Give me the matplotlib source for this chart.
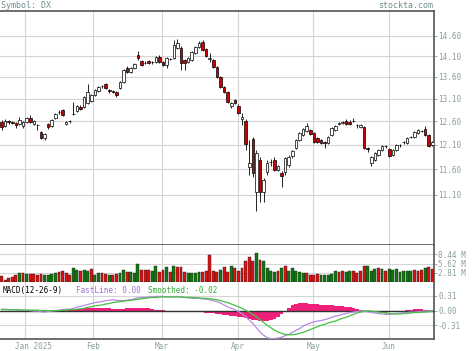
import matplotlib
matplotlib.use("Agg")
import matplotlib.pyplot as plt
import matplotlib.transforms as mtransforms
from matplotlib.ticker import NullLocator
import numpy as np

plt.rcParams['font.family'] = ['DejaVu Sans Mono']

symbol = "DX"
month_labels = ["Jan 2025", "Feb", "Mar", "Apr", "May", "Jun"]
month_pos = [6.5, 25.5, 44.7, 65.9, 86.8, 107.9]
price_ticks = [11.10, 11.60, 12.10, 12.60, 13.10, 13.60, 14.10, 14.60]
vol_ticks = [2.81, 5.62, 8.44]
macd_ticks = [-0.31, 0.0, 0.31]

# daily candles, Dec 2024 - Jun 2025
opens = [12.59, 12.50, 12.60, 12.58, 12.57, 12.55, 12.50, 12.59, 12.67, 12.55,
         12.53, 12.37, 12.25, 12.55, 12.50, 12.67, 12.80, 12.85, 12.55, 12.60,
         12.75, 12.83, 12.92, 12.92, 13.01, 13.05, 13.19, 13.28, 13.38, 13.44,
         13.29, 13.27, 13.26, 13.35, 13.49, 13.82, 13.72, 13.82, 14.13, 13.98,
         13.94, 13.98, 13.96, 13.96, 14.08, 13.96, 13.89, 14.03, 14.05, 14.30,
         14.30, 14.01, 13.96, 14.01, 14.18, 14.33, 14.45, 14.28, 14.04, 14.01,
         13.84, 13.60, 13.37, 13.26, 12.94, 13.07, 12.94, 12.65, 12.61, 11.65,
         12.23, 11.15, 11.79, 11.15, 11.55, 11.74, 11.79, 11.59, 11.53, 11.55,
         11.69, 11.87, 12.04, 12.20, 12.31, 12.39, 12.41, 12.35, 12.25, 12.20,
         12.15, 12.14, 12.31, 12.41, 12.55, 12.57, 12.61, 12.59, 12.60, 12.53,
         12.48, 12.48, 12.03, 11.73, 11.79, 11.89, 11.99, 12.07, 12.02, 11.89,
         11.99, 12.09, 12.15, 12.14, 12.26, 12.27, 12.35, 12.38, 12.44, 12.31,
         12.10]
highs = [12.63, 12.65, 12.62, 12.61, 12.59, 12.70, 12.61, 12.70, 12.74, 12.63,
         12.55, 12.39, 12.35, 12.57, 12.65, 12.78, 12.85, 12.87, 12.61, 12.63,
         13.03, 12.96, 12.96, 13.16, 13.44, 13.21, 13.32, 13.39, 13.42, 13.47,
         13.33, 13.30, 13.28, 13.51, 13.79, 13.86, 13.84, 13.93, 14.22, 14.01,
         13.97, 14.01, 13.99, 14.10, 14.12, 13.98, 14.07, 14.06, 14.50, 14.52,
         14.35, 14.04, 14.08, 14.22, 14.35, 14.47, 14.50, 14.30, 14.18, 14.03,
         13.86, 13.63, 13.40, 13.28, 13.03, 13.10, 12.97, 12.78, 12.65, 12.20,
         12.27, 11.99, 11.85, 11.43, 11.79, 11.81, 11.85, 11.69, 11.57, 11.85,
         11.89, 12.00, 12.22, 12.37, 12.46, 12.57, 12.44, 12.37, 12.27, 12.22,
         12.17, 12.29, 12.48, 12.52, 12.58, 12.60, 12.64, 12.62, 12.67, 12.55,
         12.55, 12.50, 12.05, 11.86, 11.95, 12.01, 12.10, 12.10, 12.04, 12.01,
         12.12, 12.12, 12.18, 12.27, 12.29, 12.39, 12.43, 12.41, 12.50, 12.33,
         12.18]
lows = [12.41, 12.48, 12.55, 12.54, 12.46, 12.52, 12.46, 12.57, 12.57, 12.52,
        12.41, 12.23, 12.20, 12.44, 12.48, 12.65, 12.76, 12.72, 12.53, 12.57,
        12.74, 12.81, 12.85, 12.89, 12.98, 13.03, 13.16, 13.26, 13.35, 13.33,
        13.24, 13.22, 13.15, 13.33, 13.47, 13.70, 13.70, 13.79, 14.01, 13.86,
        13.90, 13.91, 13.92, 13.94, 13.94, 13.86, 13.82, 14.00, 14.03, 14.27,
        13.77, 13.77, 13.93, 13.98, 14.15, 14.30, 14.22, 14.08, 13.96, 13.82,
        13.58, 13.35, 13.24, 13.01, 12.90, 12.98, 12.76, 12.52, 11.99, 11.49,
        11.45, 10.79, 10.96, 10.96, 11.49, 11.67, 11.57, 11.57, 11.24, 11.49,
        11.65, 11.83, 12.01, 12.18, 12.29, 12.37, 12.31, 12.14, 12.14, 12.12,
        12.04, 12.12, 12.29, 12.39, 12.52, 12.54, 12.53, 12.53, 12.58, 12.46,
        12.46, 12.02, 11.95, 11.67, 11.77, 11.87, 11.97, 12.04, 11.85, 11.87,
        11.97, 12.06, 12.12, 12.12, 12.24, 12.25, 12.33, 12.36, 12.29, 12.06,
        12.08]
closes = [12.48, 12.61, 12.59, 12.57, 12.52, 12.63, 12.59, 12.67, 12.59, 12.61,
          12.52, 12.25, 12.33, 12.48, 12.63, 12.76, 12.81, 12.74, 12.59, 12.61,
          12.77, 12.94, 12.87, 13.14, 13.26, 13.19, 13.30, 13.37, 13.39, 13.35,
          13.28, 13.26, 13.19, 13.49, 13.77, 13.72, 13.82, 13.91, 14.05, 13.89,
          13.93, 13.94, 13.95, 14.08, 13.96, 13.89, 14.05, 14.02, 14.38, 14.42,
          13.94, 13.94, 14.05, 14.20, 14.33, 14.42, 14.25, 14.10, 14.05, 13.84,
          13.60, 13.37, 13.26, 13.03, 13.01, 13.01, 12.78, 12.70, 12.12, 11.73,
          11.53, 11.93, 11.15, 11.39, 11.73, 11.75, 11.59, 11.67, 11.47, 11.83,
          11.85, 11.97, 12.20, 12.35, 12.44, 12.50, 12.33, 12.16, 12.16, 12.14,
          12.14, 12.27, 12.46, 12.50, 12.56, 12.58, 12.55, 12.55, 12.61, 12.52,
          12.52, 12.04, 12.02, 11.85, 11.93, 11.99, 12.08, 12.08, 11.87, 11.99,
          12.10, 12.10, 12.16, 12.25, 12.27, 12.37, 12.41, 12.39, 12.31, 12.08,
          12.16]

# volume in millions, bar colours (r = down, g = up)
volume = [1.73, 0.71, 1.22, 1.43, 2.04, 2.75, 2.65, 2.54, 2.54, 2.44,
          2.24, 2.44, 2.24, 2.24, 2.44, 2.85, 3.05, 3.46, 2.85, 2.24,
          4.28, 3.77, 3.26, 3.56, 3.46, 4.07, 2.24, 2.65, 2.75, 2.44,
          2.24, 2.24, 2.54, 2.85, 3.77, 3.05, 3.05, 2.85, 5.50, 3.77,
          3.77, 3.77, 3.26, 4.78, 3.05, 3.77, 4.48, 3.05, 4.78, 4.68,
          4.48, 3.05, 2.65, 2.65, 2.75, 2.95, 3.05, 3.26, 8.14, 3.26,
          3.05, 3.77, 4.48, 3.05, 4.78, 4.28, 3.26, 4.28, 6.51, 7.53,
          6.51, 8.86, 6.82, 6.51, 4.28, 3.46, 3.05, 3.26, 4.28, 4.78,
          3.46, 4.28, 3.46, 3.05, 2.85, 2.75, 2.24, 2.24, 2.44, 2.24,
          2.24, 2.24, 2.44, 3.46, 3.05, 3.46, 3.05, 3.26, 3.46, 2.75,
          3.46, 4.78, 4.78, 3.46, 4.07, 4.28, 4.07, 3.46, 4.07, 3.77,
          4.07, 3.05, 3.26, 3.26, 3.46, 3.66, 3.26, 3.66, 4.28, 4.48,
          4.07]
vol_dir = ("rrrrrgrgrrrrggggrrrrggrggrggrrgrrggrgggr"
           "rrggrrgrgrrrggggrrrrrgrrgrrrrrrgrggggrgr"
           "gggggrrrrggggg"
           "rrggrrrrgggrgrgggggggrrrg")

# MACD(12-26-9)
fast = [0.03, 0.03, 0.02, 0.02, 0.01, 0.01, 0.01, 0.01, 0.00, -0.01,
        -0.01, -0.02, -0.03, -0.02, -0.01, 0.00, 0.01, 0.02, 0.03, 0.03,
        0.05, 0.07, 0.09, 0.11, 0.13, 0.15, 0.17, 0.18, 0.19, 0.21,
        0.22, 0.23, 0.22, 0.21, 0.21, 0.22, 0.23, 0.25, 0.27, 0.28,
        0.28, 0.29, 0.29, 0.30, 0.30, 0.30, 0.29, 0.29, 0.29, 0.30,
        0.29, 0.28, 0.27, 0.26, 0.26, 0.26, 0.25, 0.24, 0.23, 0.21,
        0.19, 0.16, 0.12, 0.08, 0.05, 0.02, -0.02, -0.06, -0.13, -0.20,
        -0.27, -0.36, -0.45, -0.52, -0.57, -0.59, -0.59, -0.58, -0.56, -0.53,
        -0.50, -0.46, -0.42, -0.38, -0.33, -0.29, -0.26, -0.24, -0.22, -0.21,
        -0.19, -0.17, -0.14, -0.12, -0.10, -0.08, -0.06, -0.04, -0.03, -0.02,
        -0.01, -0.01, -0.02, -0.04, -0.05, -0.06, -0.07, -0.08, -0.08, -0.07,
        -0.06, -0.05, -0.04, -0.04, -0.03, -0.03, -0.02, -0.02, -0.01, -0.01,
        0.00]
smoothed = [0.02, 0.02, 0.02, 0.02, 0.02, 0.02, 0.01, 0.01, 0.01, 0.01,
            0.01, 0.00, 0.00, 0.00, 0.00, 0.00, 0.00, 0.01, 0.01, 0.02,
            0.02, 0.03, 0.04, 0.05, 0.07, 0.08, 0.10, 0.11, 0.12, 0.14,
            0.15, 0.17, 0.18, 0.19, 0.20, 0.21, 0.22, 0.23, 0.24, 0.25,
            0.26, 0.27, 0.28, 0.28, 0.29, 0.29, 0.29, 0.29, 0.29, 0.29,
            0.29, 0.28, 0.28, 0.28, 0.27, 0.27, 0.26, 0.26, 0.25, 0.24,
            0.23, 0.21, 0.19, 0.17, 0.14, 0.11, 0.08, 0.05, 0.01, -0.03,
            -0.08, -0.13, -0.19, -0.25, -0.31, -0.36, -0.41, -0.45, -0.48, -0.50,
            -0.51, -0.51, -0.50, -0.48, -0.46, -0.43, -0.40, -0.37, -0.34, -0.31,
            -0.29, -0.26, -0.24, -0.22, -0.19, -0.16, -0.14, -0.11, -0.08, -0.05,
            -0.03, -0.01, 0.00, -0.01, -0.02, -0.03, -0.04, -0.05, -0.06, -0.07,
            -0.07, -0.07, -0.06, -0.06, -0.05, -0.04, -0.04, -0.03, -0.03, -0.02,
            -0.02]
hist = [0.00, 0.00, 0.00, 0.00, 0.00, 0.00, 0.00, 0.00, 0.00, -0.01,
        -0.01, -0.01, -0.01, -0.01, 0.00, 0.00, 0.01, 0.03, 0.03, 0.03,
        0.03, 0.03, 0.03, 0.06, 0.06, 0.06, 0.06, 0.06, 0.06, 0.06,
        0.06, 0.04, 0.04, 0.04, 0.04, 0.06, 0.06, 0.06, 0.06, 0.06,
        0.06, 0.06, 0.03, 0.02, 0.01, 0.01, -0.01, -0.01, -0.01, -0.01,
        -0.01, -0.01, -0.01, -0.01, -0.02, -0.02, -0.03, -0.04, -0.05, -0.06,
        -0.07, -0.08, -0.09, -0.10, -0.11, -0.12, -0.13, -0.14, -0.15, -0.17,
        -0.19, -0.20, -0.21, -0.22, -0.22, -0.20, -0.17, -0.13, -0.08, -0.02,
        0.06, 0.12, 0.15, 0.17, 0.17, 0.16, 0.15, 0.14, 0.13, 0.12,
        0.12, 0.11, 0.11, 0.10, 0.10, 0.09, 0.08, 0.07, 0.06, 0.04,
        0.02, 0.00, -0.02, -0.03, -0.03, -0.03, -0.04, -0.04, -0.03, -0.03,
        -0.02, -0.01, 0.00, 0.01, 0.02, 0.03, 0.03, 0.03, 0.02, 0.02,
        0.01]

lbl_col = '#8a9e9e'
border = '#555555'
grid_col = '#d4d4d4'

o = np.array(opens)
c = np.array(closes)
x = np.arange(len(closes))

fig = plt.figure(figsize=(4.74, 3.51), dpi=100)
ax = fig.add_axes([0, 0.3006, 0.9156, 0.6681])
axv = fig.add_axes([0, 0.1966, 0.9156, 0.1040], sharex=ax)
axm = fig.add_axes([0, 0.0342, 0.9156, 0.1624], sharex=ax)

# price panel
ax.set_yscale('log')
ax.vlines(x, lows, highs, color='black', lw=0.6, zorder=2)
body_col = np.where(c >= o, 'white', '#cc0000')
ax.bar(x, np.abs(c - o), bottom=np.minimum(o, c), width=0.72,
       color=body_col, edgecolor='black', lw=0.5, zorder=3)
ax.set_ylim(10.17, 15.24)
ax.set_xlim(-0.42, 120.47)
ax.yaxis.set_minor_locator(NullLocator())
ax.set_yticks(price_ticks)
ax.set_yticklabels(['%.2f' % t for t in price_ticks])

# volume panel
vcol = ['#dd1111' if d == 'r' else '#117711' for d in vol_dir]
axv.bar(x, volume, width=0.8, color=vcol, edgecolor='#222222', lw=0.3, zorder=3)
axv.set_ylim(0, 11.15)
axv.set_yticks(vol_ticks)
axv.set_yticklabels(['%.2f M' % t for t in vol_ticks])

# MACD panel
axm.bar(x, hist, width=1.0, color='#f0207a', lw=0, zorder=2)
axm.axhline(0, color='#333333', lw=1.0, zorder=3)
axm.plot(x, fast, color='#b48ce0', lw=0.9, zorder=4)
axm.plot(x, smoothed, color='#44c044', lw=0.9, zorder=4)
axm.set_ylim(-0.599, 0.605)
axm.set_yticks(macd_ticks)
axm.set_yticklabels(['%.2f' % t for t in macd_ticks])
axm.text(0.006, 0.85, 'MACD(12-26-9)', transform=axm.transAxes,
         fontsize=5.5, color='black', va='center')
axm.text(0.175, 0.85, 'FastLine: %.2f' % fast[-1], transform=axm.transAxes,
         fontsize=5.5, color='#a070d0', va='center')
axm.text(0.341, 0.85, 'Smoothed: %.2f' % smoothed[-1], transform=axm.transAxes,
         fontsize=5.5, color='#33aa33', va='center')

for a in (ax, axv, axm):
    a.set_axisbelow(True)
    a.yaxis.tick_right()
    a.tick_params(axis='y', length=2, pad=1, labelsize=5.5,
                  colors=lbl_col, width=0.6)
    a.set_xticks(month_pos)
    a.grid(True, color=grid_col, lw=0.8)
    a.spines['left'].set_visible(False)
    for s in ('top', 'right', 'bottom'):
        a.spines[s].set_color(border)
        a.spines[s].set_linewidth(1.2)
    a.set_facecolor('white')

ax.tick_params(axis='x', length=0, labelbottom=False)
axv.tick_params(axis='x', length=0, labelbottom=False)
axv.spines['top'].set_visible(False)
axv.spines['bottom'].set_visible(False)
axm.spines['top'].set_visible(False)
axm.set_xticklabels(month_labels)
axm.tick_params(axis='x', length=0, pad=2.5, labelsize=5.5, colors=lbl_col)

# first month label sits a little right of its gridline
offset = mtransforms.ScaledTranslation(9 / 100, 0, fig.dpi_scale_trans)
first = axm.get_xticklabels()[0]
first.set_transform(first.get_transform() + offset)

fig.text(0.002, 1 - 5 / 351, 'Symbol: %s' % symbol, fontsize=6,
         color='#6f8f8f', va='center', ha='left')
fig.text(0.9135, 1 - 5 / 351, 'stockta.com', fontsize=6,
         color='#6f8f8f', va='center', ha='right')

fig.savefig('out.png', dpi=100)
